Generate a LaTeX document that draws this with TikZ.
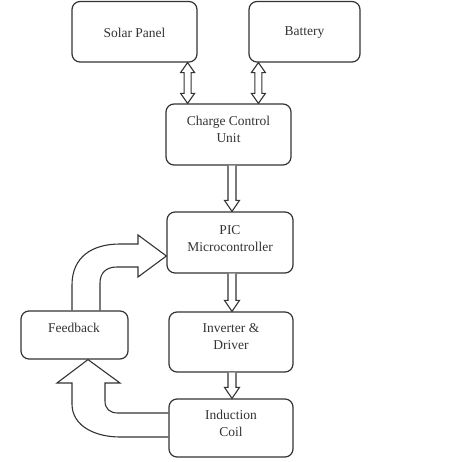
\documentclass[tikz,border=0pt]{standalone}
\usepackage{fontspec}
\setmainfont{Liberation Serif}
\usetikzlibrary{calc}
\tikzset{
  box/.style={draw=black!80, line width=1.2pt, rounded corners=8pt, inner sep=0pt},
  txt/.style={font=\fontsize{13.5}{17}\selectfont, text=black!80, align=center, inner sep=0pt},
  hollow/.style={draw=black!80, line width=1.1pt, fill=white, line join=miter},
}
% hollow down arrow from #1 (top) to #2 (bottom), x of #1
\newcommand\hollowdown[2]{%
  \draw[hollow] let \p1=(#1), \p2=(#2) in
    ({\x1-4pt},\y1) -- ({\x1-4pt},{\y2+11pt}) -- ({\x1-7.5pt},{\y2+11pt}) -- (\x1,\y2)
    -- ({\x1+7.5pt},{\y2+11pt}) -- ({\x1+4pt},{\y2+11pt}) -- ({\x1+4pt},\y1);}
% hollow double arrow between #1 (top) and #2 (bottom)
\newcommand\hollowboth[2]{%
  \draw[hollow] let \p1=(#1), \p2=(#2) in
    (\x1,\y1) -- ({\x1+7pt},{\y1-10pt}) -- ({\x1+3.5pt},{\y1-10pt}) -- ({\x1+3.5pt},{\y2+10pt})
    -- ({\x1+7pt},{\y2+10pt}) -- (\x1,\y2) -- ({\x1-7pt},{\y2+10pt}) -- ({\x1-3.5pt},{\y2+10pt})
    -- ({\x1-3.5pt},{\y1-10pt}) -- ({\x1-7pt},{\y1-10pt}) -- cycle;}
\begin{document}
\begin{tikzpicture}[x=1pt,y=1pt]
\useasboundingbox (0,0) rectangle (474,461);
% boxes
\node[box, minimum width=125pt, minimum height=60.5pt] (solar) at (134.5,429.25) {};
\node[box, minimum width=111pt, minimum height=60.5pt] (battery) at (304.5,429.25) {};
\node[box, minimum width=125pt, minimum height=61pt] (ccu) at (228.5,326.5) {};
\node[box, minimum width=126pt, minimum height=61pt] (pic) at (230,218.5) {};
\node[box, minimum width=124pt, minimum height=60pt] (inv) at (231,119) {};
\node[box, minimum width=124pt, minimum height=58pt] (coil) at (231,33) {};
\node[box, minimum width=107pt, minimum height=48pt] (fb) at (74.5,126) {};
% texts
\node[txt] (solart) at (134.5,428) {Solar Panel};
\node[txt] (batteryt) at (304.5,428) {Battery};
\node[txt] (ccut) at (228.5,331.5) {Charge Control\\Unit};
\node[txt] (pict) at (230,222.5) {PIC\\Microcontroller};
\node[txt] (invt) at (231,124) {Inverter \&\\Driver};
\node[txt] (coilt) at (231,38) {Induction\\Coil};
\node[txt] (fbt) at (74,133) {Feedback};
% coordinates for the hollow arrows
\coordinate (a1) at ($(solar.south east)+(-10,0)$);
\coordinate (a1b) at (a1 |- ccu.north);
\coordinate (a2) at ($(battery.south west)+(10,0)$);
\coordinate (a2b) at (a2 |- ccu.north);
\coordinate (a3) at (232,0 |- ccu.south);
\coordinate (a3b) at (a3 |- pic.north);
\coordinate (a4) at (232,0 |- pic.south);
\coordinate (a4b) at (a4 |- inv.north);
\coordinate (a5) at (232,0 |- inv.south);
\coordinate (a5b) at (a5 |- coil.north);
\hollowboth{a1}{a1b}
\hollowboth{a2}{a2b}
\hollowdown{a3}{a3b}
\hollowdown{a4}{a4b}
\hollowdown{a5}{a5b}
% big curved arrow: feedback -> PIC
\draw[hollow, fill=none] (72,0 |- fb.north) -- (72,176) .. controls (72,204) and (92,217) .. (120,217)
  -- (138,217) -- (138,226) -- (pic.west |- 0,205) -- (138,184) -- (138,194) -- (117,194)
  .. controls (106,194) and (100,188) .. (100,178) -- (100,0 |- fb.north);
% big curved arrow: coil -> feedback
\draw[hollow, fill=none] (coil.west |- 0,24) -- (120,24) .. controls (95,24) and (72,35) .. (72,57)
  -- (72,78) -- (57,78) -- (88,0 |- fb.south) -- (120,78) -- (105,78) -- (105,60)
  .. controls (105,52) and (110,48) .. (118,48) -- (coil.west |- 0,48);
\end{tikzpicture}
\end{document}
